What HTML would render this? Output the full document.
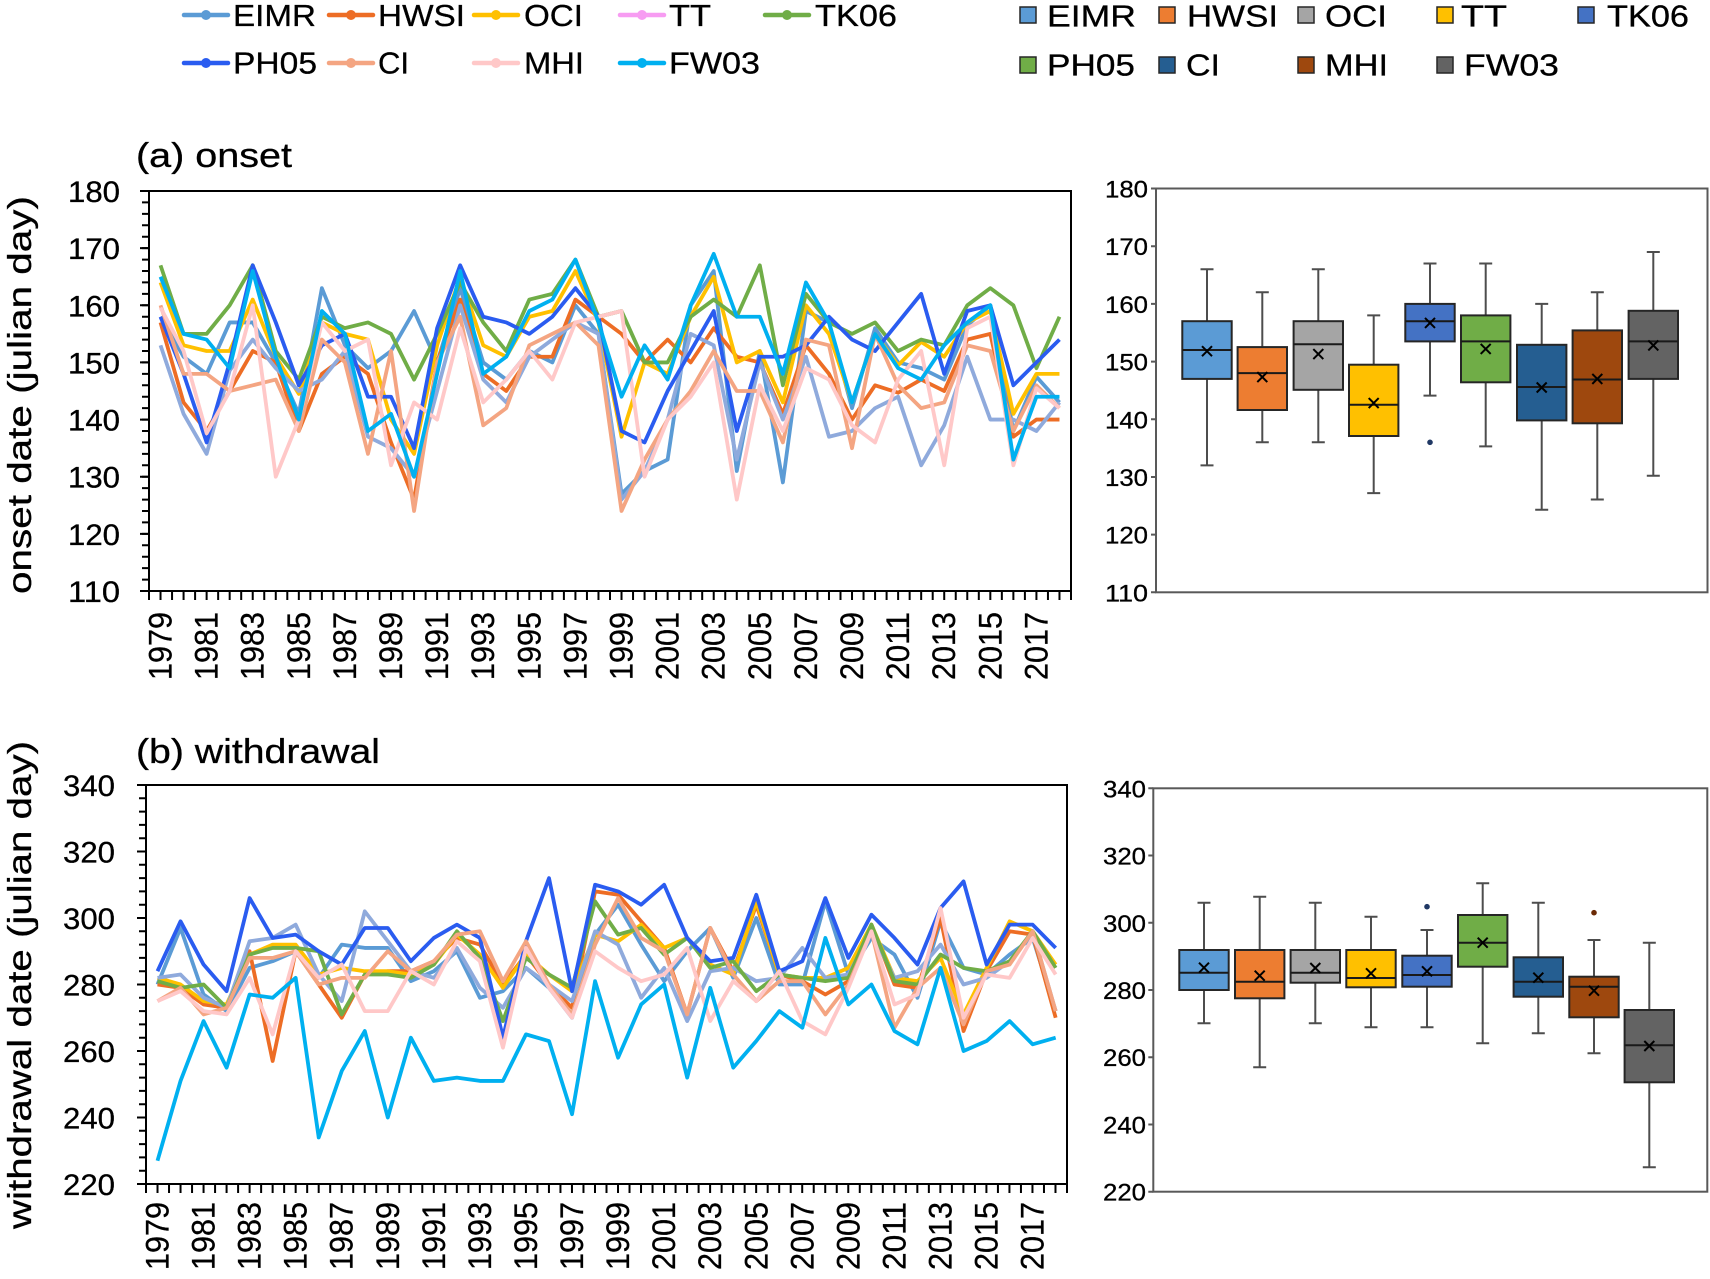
<!DOCTYPE html>
<html><head><meta charset="utf-8"><style>
html,body{margin:0;padding:0;background:#fff;}
svg{display:block;font-family:"Liberation Sans",Arial,sans-serif;}
text{stroke:#000;stroke-width:0.3px;}
</style></head><body>
<svg width="1710" height="1279" viewBox="0 0 1710 1279" xmlns="http://www.w3.org/2000/svg">
<rect width="1710" height="1279" fill="#fff"/>

<!-- LEFT LEGEND -->
<g stroke-width="4.5" stroke-linecap="round">
<line x1="184" y1="15" x2="228" y2="15" stroke="#5B9BD5"/><circle cx="206" cy="15" r="5" fill="#5B9BD5"/>
<line x1="329" y1="15" x2="373" y2="15" stroke="#ED6D25"/><circle cx="351" cy="15" r="5" fill="#ED6D25"/>
<line x1="474" y1="15" x2="518" y2="15" stroke="#FFC000"/><circle cx="496" cy="15" r="5" fill="#FFC000"/>
<line x1="620" y1="15" x2="664" y2="15" stroke="#F79CF2"/><circle cx="642" cy="15" r="5" fill="#F79CF2"/>
<line x1="765" y1="15" x2="809" y2="15" stroke="#70AD47"/><circle cx="787" cy="15" r="5" fill="#70AD47"/>
<line x1="184" y1="63" x2="228" y2="63" stroke="#2A5CF0"/><circle cx="206" cy="63" r="5" fill="#2A5CF0"/>
<line x1="329" y1="63" x2="373" y2="63" stroke="#F4A582"/><circle cx="351" cy="63" r="5" fill="#F4A582"/>
<line x1="474" y1="63" x2="518" y2="63" stroke="#FFC8C8"/><circle cx="496" cy="63" r="5" fill="#FFC8C8"/>
<line x1="620" y1="63" x2="664" y2="63" stroke="#00B0F0"/><circle cx="642" cy="63" r="5" fill="#00B0F0"/>
</g>
<g font-size="31" fill="#000">
<text x="233" y="26" textLength="83" lengthAdjust="spacingAndGlyphs">EIMR</text>
<text x="378" y="26" textLength="87" lengthAdjust="spacingAndGlyphs">HWSI</text>
<text x="524" y="26" textLength="59" lengthAdjust="spacingAndGlyphs">OCI</text>
<text x="669" y="26" textLength="42" lengthAdjust="spacingAndGlyphs">TT</text>
<text x="815" y="26" textLength="82" lengthAdjust="spacingAndGlyphs">TK06</text>
<text x="233" y="73.5" textLength="84" lengthAdjust="spacingAndGlyphs">PH05</text>
<text x="378" y="73.5" textLength="31" lengthAdjust="spacingAndGlyphs">CI</text>
<text x="524" y="73.5" textLength="60" lengthAdjust="spacingAndGlyphs">MHI</text>
<text x="669" y="73.5" textLength="91" lengthAdjust="spacingAndGlyphs">FW03</text>
</g>

<!-- RIGHT LEGEND -->
<g stroke="#262626" stroke-width="1.5">
<rect x="1020" y="7" width="16" height="16" fill="#5B9BD5"/>
<rect x="1159" y="7" width="16" height="16" fill="#ED7D31"/>
<rect x="1298" y="7" width="16" height="16" fill="#A5A5A5"/>
<rect x="1437" y="7" width="16" height="16" fill="#FFC000"/>
<rect x="1578" y="7" width="16" height="16" fill="#4472C4"/>
<rect x="1020" y="57" width="16" height="16" fill="#70AD47"/>
<rect x="1159" y="57" width="16" height="16" fill="#255E91"/>
<rect x="1298" y="57" width="16" height="16" fill="#9E480E"/>
<rect x="1437" y="57" width="16" height="16" fill="#636363"/>
</g>
<g font-size="31" fill="#000">
<text x="1047" y="26.5" textLength="89" lengthAdjust="spacingAndGlyphs">EIMR</text>
<text x="1187" y="26.5" textLength="91" lengthAdjust="spacingAndGlyphs">HWSI</text>
<text x="1325" y="26.5" textLength="62" lengthAdjust="spacingAndGlyphs">OCI</text>
<text x="1461" y="26.5" textLength="46" lengthAdjust="spacingAndGlyphs">TT</text>
<text x="1607" y="26.5" textLength="82" lengthAdjust="spacingAndGlyphs">TK06</text>
<text x="1047" y="75.5" textLength="88" lengthAdjust="spacingAndGlyphs">PH05</text>
<text x="1186" y="75.5" textLength="34" lengthAdjust="spacingAndGlyphs">CI</text>
<text x="1325" y="75.5" textLength="63" lengthAdjust="spacingAndGlyphs">MHI</text>
<text x="1464" y="75.5" textLength="95" lengthAdjust="spacingAndGlyphs">FW03</text>
</g>

<!-- ===== CHART (a) LINE ===== -->
<text x="136" y="167" font-size="34" textLength="156" lengthAdjust="spacingAndGlyphs">(a) onset</text>
<text transform="translate(31,395) rotate(-90)" text-anchor="middle" font-size="33" textLength="398" lengthAdjust="spacingAndGlyphs">onset date (julian day)</text>

<g fill="none" stroke-linejoin="round" stroke-width="3.8" transform="matrix(23.05,0,0,-5.714,160.525,1219.54)">
<polyline vector-effect="non-scaling-stroke" stroke="#5B9BD5" points="0,158 1,151 2,148 3,157 4,157 5,150 6,141 7,163 8,153 9,149 10,152 11,159 12,150 13,163 14,150 15,147 16,152 17,150 18,160 19,155 20,127 21,131 22,133 23,160 24,166 25,131 26,152 27,129 28,159 29,157 30,142 31,156 32,150 33,149 34,147 35,156.5 36,160 37,138 38,147.5 39,143"/>
<polyline vector-effect="non-scaling-stroke" stroke="#ED6D25" points="0,157 1,143 2,138 3,145 4,152 5,150 6,138 7,148 8,151 9,148 10,136 11,126 12,150 13,161 14,148 15,145 16,151 17,151 18,161 19,158 20,155 21,150 22,154 23,150 24,156 25,151 26,150 27,141 28,153 29,148 30,140 31,146 32,144.7 33,147 34,145 35,154 36,155 37,137 38,140 39,140"/>
<polyline vector-effect="non-scaling-stroke" stroke="#FFC000" points="0,164 1,153 2,152 3,152 4,161 5,151 6,144.5 7,157 8,155 9,154 10,140 11,134 12,153 13,165 14,153 15,151 16,158 17,159 18,166 19,157 20,137 21,150 22,148 23,158 24,165 25,150 26,152 27,143 28,160 29,155 30,143 31,155 32,149.5 33,153.6 34,151 35,157 36,159 37,141 38,148 39,148"/>
<polyline vector-effect="non-scaling-stroke" stroke="#8FAADC" points="0,153 1,141 2,134 3,148.6 4,154 5,149 6,145 7,147 8,152 9,137 10,135 11,130 12,145 13,160 14,147 15,143 16,151 17,154 18,157 19,155 20,126 21,131 22,140 23,155 24,153 25,133 26,150 27,140 28,151 29,137 30,138 31,142 32,144 33,132 34,139 35,151 36,140 37,140 38,138 39,143"/>
<polyline vector-effect="non-scaling-stroke" stroke="#70AD47" points="0,167 1,155 2,155 3,160 4,167 5,152 6,147 7,158 8,156 9,157 10,155 11,147 12,155 13,164 14,157 15,152 16,161 17,162 18,168 19,158 20,159 21,150 22,150 23,158 24,161 25,158 26,167 27,146 28,162 29,157 30,155 31,157 32,152 33,154 34,153 35,160 36,163 37,160 38,149 39,158"/>
<polyline vector-effect="non-scaling-stroke" stroke="#2A5CF0" points="0,158 1,148 2,136 3,150 4,167 5,157 6,146 7,153 8,155 9,144 10,144 11,135 12,156 13,167 14,158 15,157 16,155 17,158 18,163 19,158 20,138 21,136 22,145 23,152 24,159 25,138 26,151 27,151 28,153 29,158 30,154 31,152 32,157 33,162 34,148 35,159 36,160 37,146 38,150 39,154"/>
<polyline vector-effect="non-scaling-stroke" stroke="#F4A582" points="0,160 1,148 2,148 3,145 4,146 5,147 6,138 7,154 8,150 9,134 10,152 11,124 12,150 13,158 14,139 15,142 16,153 17,155 18,157 19,153 20,124 21,133 22,140 23,145 24,152 25,145 26,145 27,136 28,154 29,153 30,135 31,155 32,146 33,142 34,143 35,153 36,152 37,138 38,146 39,142"/>
<polyline vector-effect="non-scaling-stroke" stroke="#FFC8C8" points="0,159.6 1,152 2,137.6 3,145 4,160 5,130 6,140 7,157 8,152 9,154 10,132 11,143 12,140 13,156 14,143 15,147 16,152 17,147 18,157 19,158 20,159 21,130 22,140 23,144 24,150 25,126 26,146 27,138 28,149 29,147 30,139 31,136 32,147 33,152 34,132 35,156 36,158 37,132 38,145.5 39,142"/>
<polyline vector-effect="non-scaling-stroke" stroke="#00B0F0" points="0,165 1,155 2,154 3,149 4,166 5,151 6,140 7,159 8,155 9,138 10,141 11,130 12,148 13,166 14,148 15,151 16,159 17,161 18,168 19,157 20,144 21,153 22,147 23,160 24,169 25,158 26,158 27,148 28,164 29,157 30,143 31,155 32,149 33,147 34,153 35,157 36,160 37,133 38,144 39,144"/>
</g>

<rect x="149" y="191" width="922" height="400" fill="none" stroke="#000" stroke-width="2"/>
<line x1="148" y1="595.5" x2="1072" y2="595.5" stroke="#000" stroke-width="9" stroke-dasharray="2 9.525"/>
<line x1="145.5" y1="190" x2="145.5" y2="592" stroke="#000" stroke-width="7" stroke-dasharray="2 9.4286"/>
<path d="M140 191H149M140 248.1H149M140 305.3H149M140 362.4H149M140 419.6H149M140 476.7H149M140 533.9H149M140 591H149" stroke="#000" stroke-width="2"/>
<g font-size="30" text-anchor="end">
<text x="120" y="202" textLength="52" lengthAdjust="spacingAndGlyphs">180</text>
<text x="120" y="259.1" textLength="52" lengthAdjust="spacingAndGlyphs">170</text>
<text x="120" y="316.3" textLength="52" lengthAdjust="spacingAndGlyphs">160</text>
<text x="120" y="373.4" textLength="52" lengthAdjust="spacingAndGlyphs">150</text>
<text x="120" y="430.6" textLength="52" lengthAdjust="spacingAndGlyphs">140</text>
<text x="120" y="487.7" textLength="52" lengthAdjust="spacingAndGlyphs">130</text>
<text x="120" y="544.9" textLength="52" lengthAdjust="spacingAndGlyphs">120</text>
<text x="120" y="602" textLength="52" lengthAdjust="spacingAndGlyphs">110</text>
</g>
<g font-size="32" text-anchor="end">
<text transform="translate(171.5,612) rotate(-90)" textLength="68" lengthAdjust="spacingAndGlyphs">1979</text>
<text transform="translate(217.6,612) rotate(-90)" textLength="68" lengthAdjust="spacingAndGlyphs">1981</text>
<text transform="translate(263.7,612) rotate(-90)" textLength="68" lengthAdjust="spacingAndGlyphs">1983</text>
<text transform="translate(309.8,612) rotate(-90)" textLength="68" lengthAdjust="spacingAndGlyphs">1985</text>
<text transform="translate(355.9,612) rotate(-90)" textLength="68" lengthAdjust="spacingAndGlyphs">1987</text>
<text transform="translate(402,612) rotate(-90)" textLength="68" lengthAdjust="spacingAndGlyphs">1989</text>
<text transform="translate(448.1,612) rotate(-90)" textLength="68" lengthAdjust="spacingAndGlyphs">1991</text>
<text transform="translate(494.2,612) rotate(-90)" textLength="68" lengthAdjust="spacingAndGlyphs">1993</text>
<text transform="translate(540.3,612) rotate(-90)" textLength="68" lengthAdjust="spacingAndGlyphs">1995</text>
<text transform="translate(586.4,612) rotate(-90)" textLength="68" lengthAdjust="spacingAndGlyphs">1997</text>
<text transform="translate(632.5,612) rotate(-90)" textLength="68" lengthAdjust="spacingAndGlyphs">1999</text>
<text transform="translate(678.6,612) rotate(-90)" textLength="68" lengthAdjust="spacingAndGlyphs">2001</text>
<text transform="translate(724.7,612) rotate(-90)" textLength="68" lengthAdjust="spacingAndGlyphs">2003</text>
<text transform="translate(770.8,612) rotate(-90)" textLength="68" lengthAdjust="spacingAndGlyphs">2005</text>
<text transform="translate(816.9,612) rotate(-90)" textLength="68" lengthAdjust="spacingAndGlyphs">2007</text>
<text transform="translate(863,612) rotate(-90)" textLength="68" lengthAdjust="spacingAndGlyphs">2009</text>
<text transform="translate(909.1,612) rotate(-90)" textLength="68" lengthAdjust="spacingAndGlyphs">2011</text>
<text transform="translate(955.2,612) rotate(-90)" textLength="68" lengthAdjust="spacingAndGlyphs">2013</text>
<text transform="translate(1001.3,612) rotate(-90)" textLength="68" lengthAdjust="spacingAndGlyphs">2015</text>
<text transform="translate(1047.4,612) rotate(-90)" textLength="68" lengthAdjust="spacingAndGlyphs">2017</text>
</g>

<!-- ===== CHART (a) BOX ===== -->
<rect x="1156" y="188.5" width="551.5" height="403.8" fill="none" stroke="#595959" stroke-width="2"/>
<path d="M1151 188.5H1156M1151 246.2H1156M1151 303.9H1156M1151 361.6H1156M1151 419.3H1156M1151 477H1156M1151 534.6H1156M1151 592.3H1156" stroke="#595959" stroke-width="2"/>
<g font-size="24" text-anchor="end">
<text x="1148" y="197.5" textLength="43" lengthAdjust="spacingAndGlyphs">180</text>
<text x="1148" y="255.2" textLength="43" lengthAdjust="spacingAndGlyphs">170</text>
<text x="1148" y="312.9" textLength="43" lengthAdjust="spacingAndGlyphs">160</text>
<text x="1148" y="370.6" textLength="43" lengthAdjust="spacingAndGlyphs">150</text>
<text x="1148" y="428.3" textLength="43" lengthAdjust="spacingAndGlyphs">140</text>
<text x="1148" y="486" textLength="43" lengthAdjust="spacingAndGlyphs">130</text>
<text x="1148" y="543.6" textLength="43" lengthAdjust="spacingAndGlyphs">120</text>
<text x="1148" y="601.3" textLength="43" lengthAdjust="spacingAndGlyphs">110</text>
</g>
<path fill="none" stroke="#4d4d4d" stroke-width="2" d="M1207 269.3V321.2M1207 378.9V465.4M1200.5 269.3H1213.5M1200.5 465.4H1213.5M1262.3 292.3V347.1M1262.3 410V442.3M1255.8 292.3H1268.8M1255.8 442.3H1268.8M1318.3 269.3V321.2M1318.3 389.8V442.3M1311.8 269.3H1324.8M1311.8 442.3H1324.8M1373.7 315.4V364.7M1373.7 436V493.1M1367.2 315.4H1380.2M1367.2 493.1H1380.2M1430 263.5V303.9M1430 341.4V395.6M1423.5 263.5H1436.5M1423.5 395.6H1436.5M1485.7 263.5V315.4M1485.7 382.3V446.4M1479.2 263.5H1492.2M1479.2 446.4H1492.2M1541.7 303.9V344.8M1541.7 420.4V509.8M1535.2 303.9H1548.2M1535.2 509.8H1548.2M1597.3 292.3V330.4M1597.3 423.3V499.5M1590.8 292.3H1603.8M1590.8 499.5H1603.8M1653.3 252V310.8M1653.3 378.9V475.8M1646.8 252H1659.8M1646.8 475.8H1659.8"/>
<g stroke="#262626" stroke-width="2">
<rect x="1182.3" y="321.2" width="49.4" height="57.7" fill="#5B9BD5"/>
<rect x="1237.6" y="347.1" width="49.4" height="62.9" fill="#ED7D31"/>
<rect x="1293.6" y="321.2" width="49.4" height="68.6" fill="#A5A5A5"/>
<rect x="1349" y="364.7" width="49.4" height="71.3" fill="#FFC000"/>
<rect x="1405.3" y="303.9" width="49.4" height="37.5" fill="#4472C4"/>
<rect x="1461" y="315.4" width="49.4" height="66.9" fill="#70AD47"/>
<rect x="1517" y="344.8" width="49.4" height="75.6" fill="#255E91"/>
<rect x="1572.6" y="330.4" width="49.4" height="92.9" fill="#9E480E"/>
<rect x="1628.6" y="310.8" width="49.4" height="68.1" fill="#636363"/>
</g>
<path fill="none" stroke="#1a1a1a" stroke-width="2" d="M1182.3 350H1231.7M1237.6 373.1H1287M1293.6 344.3H1343M1349 404.8H1398.4M1405.3 321.2H1454.7M1461 341.4H1510.4M1517 387H1566.4M1572.6 379.5H1622M1628.6 341.4H1678"/>
<path fill="none" stroke="#000" stroke-width="2" d="M1202 346.2l10 10m0-10l-10 10M1257.3 372.1l10 10m0-10l-10 10M1313.3 349.1l10 10m0-10l-10 10M1368.7 398.1l10 10m0-10l-10 10M1425 317.9l10 10m0-10l-10 10M1480.7 343.9l10 10m0-10l-10 10M1536.7 382.5l10 10m0-10l-10 10M1592.3 373.9l10 10m0-10l-10 10M1648.3 340.4l10 10m0-10l-10 10"/>
<circle cx="1430" cy="442.3" r="2.8" fill="#203864"/>

<!-- ===== CHART (b) LINE ===== -->
<text x="136" y="763" font-size="34" textLength="244" lengthAdjust="spacingAndGlyphs">(b) withdrawal</text>
<text transform="translate(31,985) rotate(-90)" text-anchor="middle" font-size="33" textLength="488" lengthAdjust="spacingAndGlyphs">withdrawal date (julian day)</text>

<g fill="none" stroke-linejoin="round" stroke-width="3.8" transform="matrix(23.03,0,0,-3.325,157.5,1915.5)">
<polyline vector-effect="non-scaling-stroke" stroke="#5B9BD5" points="0,280 1,297 2,277 3,272 4,285 5,287 6,290 7,282 8,292 9,291 10,291 11,281 12,284 13,290 14,276 15,278 16,285 17,279 18,270 19,295 20,304 21,292 22,281 23,290 24,297 25,282 26,300 27,280 28,280 29,305 30,283 31,294 32,289 33,276 34,299 35,285 36,283 37,289 38,294 39,272"/>
<polyline vector-effect="non-scaling-stroke" stroke="#ED6D25" points="0,280 1,279 2,274 3,273 4,290 5,257 6,290 7,280 8,270 9,283 10,284 11,284 12,287 13,294 14,292 15,280 16,289 17,280 18,273 19,308 20,307 21,299 22,291 23,271 24,297 25,284 26,304 27,283 28,281 29,277 30,281 31,298 32,280 33,279 34,300 35,266 36,284 37,296 38,295 39,270"/>
<polyline vector-effect="non-scaling-stroke" stroke="#FFC000" points="0,282 1,280 2,275 3,274 4,289 5,292 6,292 7,283 8,285 9,284 10,284 11,283 12,286 13,295 14,289 15,279 16,289 17,283 18,278 19,295 20,293 21,298 22,291 23,294 24,286 25,283 26,305 27,283 28,282 29,282 30,285 31,298 32,282 33,281 34,288 35,271 36,285 37,299 38,296 39,286"/>
<polyline vector-effect="non-scaling-stroke" stroke="#8FAADC" points="0,282 1,283 2,276 3,273 4,293 5,294 6,298 7,283 8,275 9,302 10,293 11,284 12,282 13,291 14,279 15,273 16,285 17,280 18,275 19,296 20,292 21,276 22,285 23,269 24,284 25,285 26,281 27,282 28,291 29,282 30,283 31,296 32,282 33,284 34,292 35,280 36,282 37,287 38,296 39,272"/>
<polyline vector-effect="non-scaling-stroke" stroke="#70AD47" points="0,281 1,279 2,280 3,273 4,289 5,291 6,291 7,290 8,271 9,283 10,283 11,282 12,286 13,296 14,288 15,269 16,288 17,283 18,279 19,305 20,295 21,297 22,289 23,294 24,285 25,287 26,278 27,283 28,282 29,281 30,282 31,298 32,281 33,280 34,289 35,285 36,284 37,287 38,296 39,285"/>
<polyline vector-effect="non-scaling-stroke" stroke="#2A5CF0" points="0,284 1,299 2,286 3,278 4,306 5,294 6,295 7,290 8,286 9,297 10,297 11,287 12,294 13,298 14,294 15,264 16,293 17,312 18,278 19,310 20,308 21,304 22,310 23,294 24,287 25,288 26,307 27,284 28,287 29,306 30,288 31,301 32,294 33,286 34,303 35,311 36,286 37,298 38,298 39,291"/>
<polyline vector-effect="non-scaling-stroke" stroke="#F4A582" points="0,275 1,279 2,271 3,273 4,288 5,288 6,290 7,280 8,282 9,282 10,290 11,284 12,287 13,295 14,296 15,281 16,293 17,280 18,271 19,292 20,306 21,294 22,290 23,271 24,297 25,283 26,275 27,281 28,281 29,271 30,280 31,296 32,267 33,279 34,285 35,268 36,284 37,286 38,296 39,272"/>
<polyline vector-effect="non-scaling-stroke" stroke="#FFC8C8" points="0,275 1,278 2,272 3,271 4,282 5,265 6,290 7,282 8,286 9,272 10,272 11,284 12,280 13,293 14,287 15,261 16,291 17,279 18,270 19,290 20,285 21,281 22,283 23,291 24,269 25,281 26,275 27,284 28,269 29,265 30,279 31,296 32,274 33,277 34,303 35,270 36,283 37,282 38,294 39,283"/>
<polyline vector-effect="non-scaling-stroke" stroke="#00B0F0" points="0,227 1,251 2,269 3,255 4,277 5,276 6,282 7,234 8,254 9,266 10,240 11,264 12,251 13,252 14,251 15,251 16,265 17,263 18,241 19,281 20,258 21,274 22,280 23,252 24,279 25,255 26,263 27,272 28,267 29,294 30,274 31,280 32,266 33,262 34,285 35,260 36,263 37,269 38,262 39,264"/>
</g>

<rect x="146" y="785" width="921" height="399" fill="none" stroke="#000" stroke-width="2"/>
<line x1="145" y1="1188.5" x2="1068" y2="1188.5" stroke="#000" stroke-width="9" stroke-dasharray="2 9.5125"/>
<line x1="142.5" y1="784" x2="142.5" y2="1185" stroke="#000" stroke-width="7" stroke-dasharray="2 11.3"/>
<path d="M137 785H146M137 851.5H146M137 918H146M137 984.5H146M137 1051H146M137 1117.5H146M137 1184H146" stroke="#000" stroke-width="2"/>
<g font-size="30" text-anchor="end">
<text x="115" y="796" textLength="52" lengthAdjust="spacingAndGlyphs">340</text>
<text x="115" y="862.5" textLength="52" lengthAdjust="spacingAndGlyphs">320</text>
<text x="115" y="929" textLength="52" lengthAdjust="spacingAndGlyphs">300</text>
<text x="115" y="995.5" textLength="52" lengthAdjust="spacingAndGlyphs">280</text>
<text x="115" y="1062" textLength="52" lengthAdjust="spacingAndGlyphs">260</text>
<text x="115" y="1128.5" textLength="52" lengthAdjust="spacingAndGlyphs">240</text>
<text x="115" y="1195" textLength="52" lengthAdjust="spacingAndGlyphs">220</text>
</g>
<g font-size="32" text-anchor="end">
<text transform="translate(168.5,1202) rotate(-90)" textLength="68" lengthAdjust="spacingAndGlyphs">1979</text>
<text transform="translate(214.6,1202) rotate(-90)" textLength="68" lengthAdjust="spacingAndGlyphs">1981</text>
<text transform="translate(260.6,1202) rotate(-90)" textLength="68" lengthAdjust="spacingAndGlyphs">1983</text>
<text transform="translate(306.7,1202) rotate(-90)" textLength="68" lengthAdjust="spacingAndGlyphs">1985</text>
<text transform="translate(352.7,1202) rotate(-90)" textLength="68" lengthAdjust="spacingAndGlyphs">1987</text>
<text transform="translate(398.8,1202) rotate(-90)" textLength="68" lengthAdjust="spacingAndGlyphs">1989</text>
<text transform="translate(444.9,1202) rotate(-90)" textLength="68" lengthAdjust="spacingAndGlyphs">1991</text>
<text transform="translate(490.9,1202) rotate(-90)" textLength="68" lengthAdjust="spacingAndGlyphs">1993</text>
<text transform="translate(537,1202) rotate(-90)" textLength="68" lengthAdjust="spacingAndGlyphs">1995</text>
<text transform="translate(583,1202) rotate(-90)" textLength="68" lengthAdjust="spacingAndGlyphs">1997</text>
<text transform="translate(629.1,1202) rotate(-90)" textLength="68" lengthAdjust="spacingAndGlyphs">1999</text>
<text transform="translate(675.2,1202) rotate(-90)" textLength="68" lengthAdjust="spacingAndGlyphs">2001</text>
<text transform="translate(721.2,1202) rotate(-90)" textLength="68" lengthAdjust="spacingAndGlyphs">2003</text>
<text transform="translate(767.3,1202) rotate(-90)" textLength="68" lengthAdjust="spacingAndGlyphs">2005</text>
<text transform="translate(813.3,1202) rotate(-90)" textLength="68" lengthAdjust="spacingAndGlyphs">2007</text>
<text transform="translate(859.4,1202) rotate(-90)" textLength="68" lengthAdjust="spacingAndGlyphs">2009</text>
<text transform="translate(905.5,1202) rotate(-90)" textLength="68" lengthAdjust="spacingAndGlyphs">2011</text>
<text transform="translate(951.5,1202) rotate(-90)" textLength="68" lengthAdjust="spacingAndGlyphs">2013</text>
<text transform="translate(997.6,1202) rotate(-90)" textLength="68" lengthAdjust="spacingAndGlyphs">2015</text>
<text transform="translate(1043.6,1202) rotate(-90)" textLength="68" lengthAdjust="spacingAndGlyphs">2017</text>
</g>

<!-- ===== CHART (b) BOX ===== -->
<rect x="1153.3" y="788.3" width="554" height="403.4" fill="none" stroke="#595959" stroke-width="2"/>
<path d="M1148.3 788.3H1153.3M1148.3 855.5H1153.3M1148.3 922.8H1153.3M1148.3 990H1153.3M1148.3 1057.2H1153.3M1148.3 1124.5H1153.3M1148.3 1191.7H1153.3" stroke="#595959" stroke-width="2"/>
<g font-size="24" text-anchor="end">
<text x="1146" y="797.3" textLength="43" lengthAdjust="spacingAndGlyphs">340</text>
<text x="1146" y="864.5" textLength="43" lengthAdjust="spacingAndGlyphs">320</text>
<text x="1146" y="931.8" textLength="43" lengthAdjust="spacingAndGlyphs">300</text>
<text x="1146" y="999" textLength="43" lengthAdjust="spacingAndGlyphs">280</text>
<text x="1146" y="1066.2" textLength="43" lengthAdjust="spacingAndGlyphs">260</text>
<text x="1146" y="1133.5" textLength="43" lengthAdjust="spacingAndGlyphs">240</text>
<text x="1146" y="1200.7" textLength="43" lengthAdjust="spacingAndGlyphs">220</text>
</g>
<path fill="none" stroke="#4d4d4d" stroke-width="2" d="M1204 902.7V950M1204 990V1023.3M1197.5 902.7H1210.5M1197.5 1023.3H1210.5M1259.7 896.7V950M1259.7 998.3V1067.3M1253.2 896.7H1266.2M1253.2 1067.3H1266.2M1315.3 902.7V950M1315.3 982.7V1023.3M1308.8 902.7H1321.8M1308.8 1023.3H1321.8M1371 916.7V950M1371 987.3V1027.3M1364.5 916.7H1377.5M1364.5 1027.3H1377.5M1427 930V955.7M1427 986.7V1027.3M1420.5 930H1433.5M1420.5 1027.3H1433.5M1482.7 883.3V915M1482.7 966.7V1043.3M1476.2 883.3H1489.2M1476.2 1043.3H1489.2M1538.3 902.7V957.3M1538.3 996.7V1033.3M1531.8 902.7H1544.8M1531.8 1033.3H1544.8M1594 940V976.7M1594 1017.3V1053.3M1587.5 940H1600.5M1587.5 1053.3H1600.5M1649.3 942.7V1010M1649.3 1082.3V1167.3M1642.8 942.7H1655.8M1642.8 1167.3H1655.8"/>
<g stroke="#262626" stroke-width="2">
<rect x="1179.3" y="950" width="49.4" height="40" fill="#5B9BD5"/>
<rect x="1235" y="950" width="49.4" height="48.3" fill="#ED7D31"/>
<rect x="1290.6" y="950" width="49.4" height="32.7" fill="#A5A5A5"/>
<rect x="1346.3" y="950" width="49.4" height="37.3" fill="#FFC000"/>
<rect x="1402.3" y="955.7" width="49.4" height="31" fill="#4472C4"/>
<rect x="1458" y="915" width="49.4" height="51.7" fill="#70AD47"/>
<rect x="1513.6" y="957.3" width="49.4" height="39.4" fill="#255E91"/>
<rect x="1569.3" y="976.7" width="49.4" height="40.6" fill="#9E480E"/>
<rect x="1624.6" y="1010" width="49.4" height="72.3" fill="#636363"/>
</g>
<path fill="none" stroke="#1a1a1a" stroke-width="2" d="M1179.3 972.7H1228.7M1235 981.7H1284.4M1290.6 972.7H1340M1346.3 978H1395.7M1402.3 975H1451.7M1458 942.7H1507.4M1513.6 981.7H1563M1569.3 986.7H1618.7M1624.6 1045.3H1674"/>
<path fill="none" stroke="#000" stroke-width="2" d="M1199 962.7l10 10m0-10l-10 10M1254.7 970.7l10 10m0-10l-10 10M1310.3 963l10 10m0-10l-10 10M1366 968.3l10 10m0-10l-10 10M1422 966.3l10 10m0-10l-10 10M1477.7 937.7l10 10m0-10l-10 10M1533.3 972.7l10 10m0-10l-10 10M1589 985.7l10 10m0-10l-10 10M1644.3 1041l10 10m0-10l-10 10"/>
<circle cx="1427" cy="906.7" r="2.8" fill="#203864"/>
<circle cx="1594" cy="912.7" r="2.8" fill="#6B2A05"/>
</svg>
</body></html>
